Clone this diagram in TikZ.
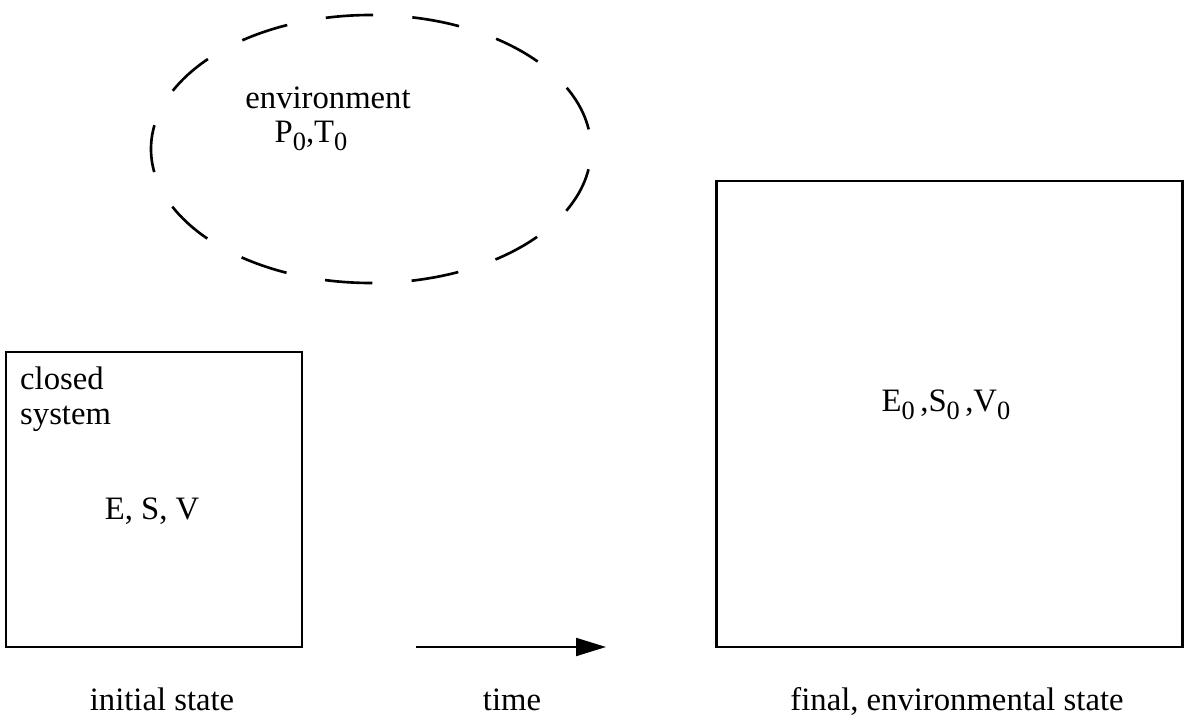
\documentclass[tikz,border=0pt]{standalone}
\usepackage{fontspec}
\setmainfont{Liberation Serif}
\usepackage{tikz}
\usetikzlibrary{arrows.meta, positioning, shapes.geometric}

\newcommand{\subz}[1]{\raisebox{-0.5ex}{\fontsize{15}{15}\selectfont #1}}

\begin{document}
\begin{tikzpicture}[
    every node/.style={font=\fontsize{18.6}{22}\selectfont},
    sysbox/.style={rectangle, draw, line width=1.7pt, inner sep=0pt},
    envring/.style={ellipse, draw, line width=1.5pt, inner sep=0pt,
                    dash pattern=on 0.95cm off 0.785cm, dash phase=1.34cm,
                    minimum width=8.8cm, minimum height=5.36cm},
    lbl/.style={anchor=base}
]
\useasboundingbox (0,0) rectangle (23.98,-14.5);

\node[envring] (env) at (7.42,-2.98) {};
\node[lbl] (envname) at (6.56,-2.18) {environment};
\node[lbl] (envpt)   at (6.22,-2.86) {P\subz{0},T\subz{0}};

\node[sysbox, minimum width=5.92cm, minimum height=5.9cm]  (init)  at (3.08,-9.99) {};
\node[sysbox, minimum width=9.32cm, minimum height=9.32cm] (final) at (18.98,-8.28) {};

\node[anchor=base west] (closed) at (0.28,-7.80) {closed};
\node[anchor=base west] (system) at (0.28,-8.50) {system};
\node[lbl] (esv)  at (3.04,-10.40) {E, S, V};
\node[lbl] (esv0) at (18.92,-8.24) {E\subz{0}\,,S\subz{0}\,,V\subz{0}};

\coordinate (t0) at (8.32,-12.94);
\coordinate (t1) at (12.12,-12.94);
\draw[-{Triangle[length=0.6cm, width=0.36cm]}, line width=1.2pt] (t0) -- (t1);

\node[lbl] (initlbl)  at (3.24,-14.2)  {initial state};
\node[lbl] (timelbl)  at (10.24,-14.2) {time};
\node[lbl] (finallbl) at (19.14,-14.2) {final, environmental state};
\end{tikzpicture}
\end{document}
